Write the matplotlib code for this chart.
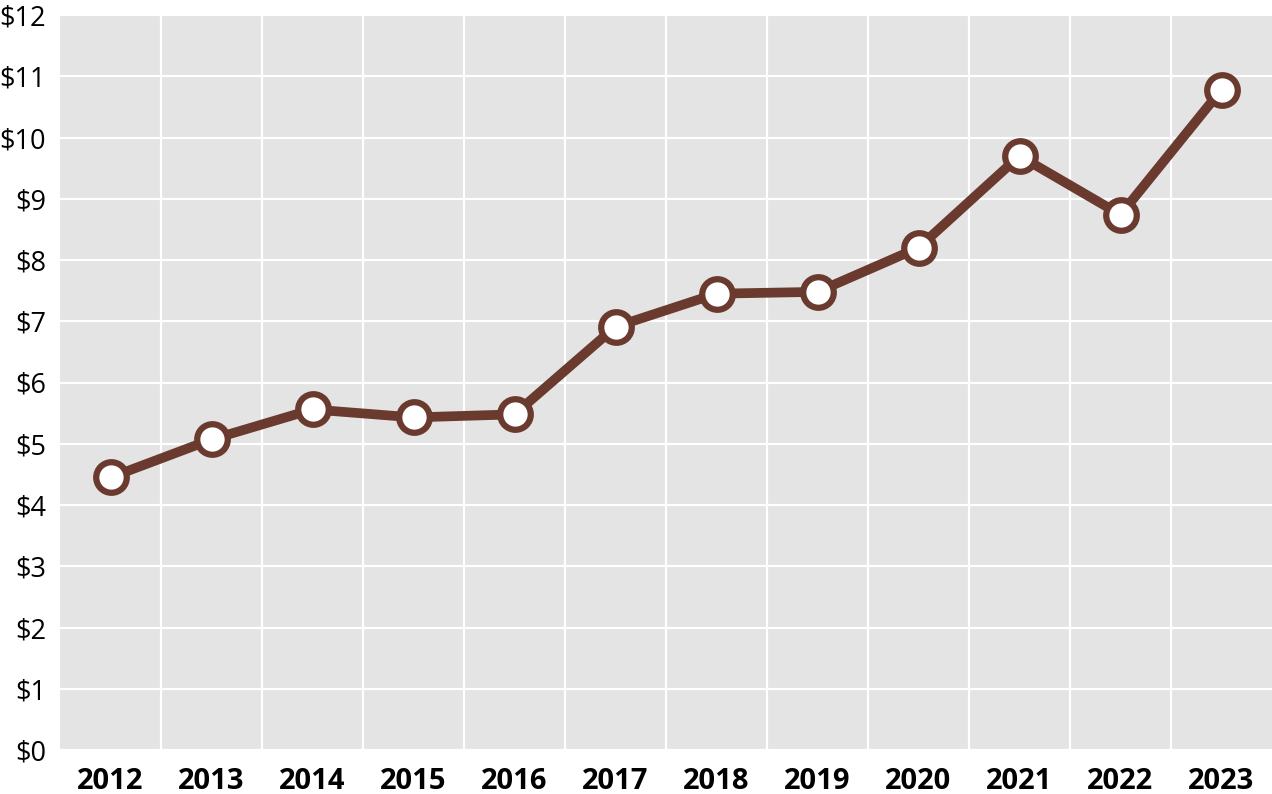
import matplotlib.pyplot as plt
import numpy as np

years = ["2012", "2013", "2014", "2015", "2016", "2017",
         "2018", "2019", "2020", "2021", "2022", "2023"]
values = [4.45, 5.07, 5.56, 5.43, 5.48, 6.91, 7.45, 7.48, 8.20, 9.70, 8.74, 10.78]
yticks = [0, 1, 2, 3, 4, 5, 6, 7, 8, 9, 10, 11, 12]

plt.rcParams['font.family'] = ['Open Sans', 'DejaVu Sans']

fig = plt.figure(figsize=(12.72, 7.94), dpi=100)
ax = fig.add_axes([60 / 1272, 44 / 794, 1212 / 1272, 735 / 794])
ax.set_facecolor('#e4e4e4')

x = np.arange(len(years))
ax.plot(x, values, color='#6b3a2e', lw=7, marker='o', markersize=22,
        markerfacecolor='white', markeredgecolor='#6b3a2e', markeredgewidth=4.5,
        zorder=3, clip_on=False)

ax.set_xlim(-0.5, len(years) - 0.5)
ax.set_ylim(0, 12)
ax.set_yticks(yticks)
ax.set_yticklabels([f"${v}" for v in yticks], fontsize=19.5)
ax.set_xticks(x)
ax.set_xticklabels(years, fontsize=21, fontweight='bold')
ax.set_xticks(x[:-1] + 0.5, minor=True)

ax.grid(True, axis='y', which='major', color='white', lw=1.6)
ax.grid(True, axis='x', which='minor', color='white', lw=1.6)
ax.set_axisbelow(True)
ax.tick_params(which='both', length=0)
ax.tick_params(axis='y', pad=10)
ax.tick_params(axis='x', pad=12)
for s in ax.spines.values():
    s.set_visible(False)

plt.savefig('out.png', dpi=100)
